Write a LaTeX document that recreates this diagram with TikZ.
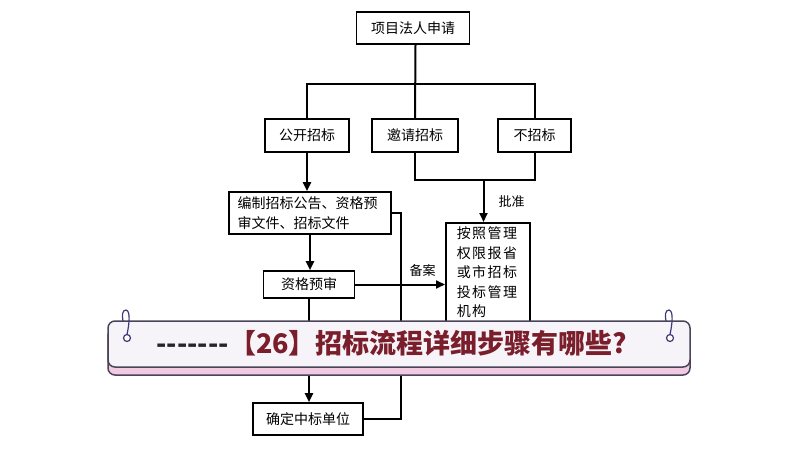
\documentclass[tikz,border=0pt]{standalone}
\usepackage{fontspec}
\usetikzlibrary{arrows.meta}
\newfontfamily\cjk{Noto Sans CJK SC}
\newfontfamily\cjkw{Noto Sans CJK SC}[LetterSpace=10]
\definecolor{bannerfill}{HTML}{F6F4F9}
\definecolor{bannerline}{HTML}{4A4458}
\definecolor{bannerpink}{HTML}{F2CBE3}
\definecolor{hookblue}{HTML}{3D3A7A}
\definecolor{titlered}{HTML}{7A1E2C}
\tikzset{
  box/.style={draw, line width=1.6pt, fill=white, inner sep=4pt,
    font=\cjk\fontsize{14}{20}\selectfont},
  link/.style={draw=black, line width=2pt},
  arr/.style={link, -{Triangle[length=9pt,width=8pt]}},
  lbl/.style={font=\cjk\fontsize{13}{15}\selectfont, inner sep=2pt},
}

\begin{document}
\begin{tikzpicture}[x=1pt,y=-1pt]
 \fill[white] (0,0) rectangle (800,449);
 \useasboundingbox (0,0) rectangle (800,449);
 \begin{scope}[every node/.style={box}]
   \node (apply) [minimum width=113pt, minimum height=32pt] at (413,28) {项目法人申请};
   \node (gk) [minimum width=84pt, minimum height=33pt] at (307,135.5) {公开招标};
   \node (yq) [minimum width=86pt, minimum height=33pt] at (415,135.5) {邀请招标};
   \node (bzb) [minimum width=73pt, minimum height=33pt] at (534.5,135.5) {不招标};
   \node (bz) [minimum width=162pt, minimum height=42pt, text width=145pt, align=left] at (310,213) {编制招标公告、资格预\\审文件、招标文件};
   \node (zg) [minimum width=91pt, minimum height=27pt] at (309,284.5) {资格预审};
   \node (qd) [minimum width=110pt, minimum height=32pt] at (308,419) {确定中标单位};
   \node (book) [anchor=north west, minimum width=84pt, text width=62pt, align=left,
     font=\cjkw\fontsize{14}{19.5}\selectfont] at (445,222) {按照管理\\权限报省\\或市招标\\投标管理\\机构};
 \end{scope}
 \coordinate (split) at (415.5,84.5);
 \coordinate (join) at (483.5,180.5);
 \coordinate (rt) at (400.5,213);
 \path [link] (apply.south -| split) -- (yq.north);
 \path [link] (gk.north) |- (split) -| (bzb.north);
 \path [link] (yq.south) |- (join) -| (bzb.south);
 \path [arr] (join) -- (join |- book.north) node [lbl, midway, right=12pt] {批准};
 \path [arr] (gk.south) -- (gk.south |- bz.north);
 \path [arr] (bz.south) -- (bz.south |- zg.north);
 \path [link] (bz.east) -- (rt) |- (qd.east);
 \path [arr] (zg.east) -- (zg.east -| book.west) node [lbl, pos=0.75, above=5pt] {备案};
 \path [arr] (zg.south) -- (zg.south |- qd.north);
 % banner
 \draw[bannerline, fill=bannerpink, line width=1.5pt, rounded corners=7pt] (108,329) rectangle (690,375);
 \draw[bannerline, fill=bannerfill, line width=1.5pt, rounded corners=7pt] (108,321) rectangle (690,367);
 \node (title) [font=\cjk\bfseries\fontsize{27}{30}\selectfont, text=titlered, inner sep=0pt] at (392,343)
   {\textcolor{black!85}{-------}【26】招标流程详细步骤有哪些?};
 \foreach \hx in {127,670} {
   \draw[hookblue, line width=1.2pt] (\hx,334.5) .. controls (\hx+2,325) and (\hx+4,311) .. (\hx-1,310)
     .. controls (\hx-5,310) and (\hx-5,316) .. (\hx-4,321);
   \draw[hookblue, line width=1.2pt, fill=white] (\hx,338) circle (3.5pt);
 }
\end{tikzpicture}
\end{document}
